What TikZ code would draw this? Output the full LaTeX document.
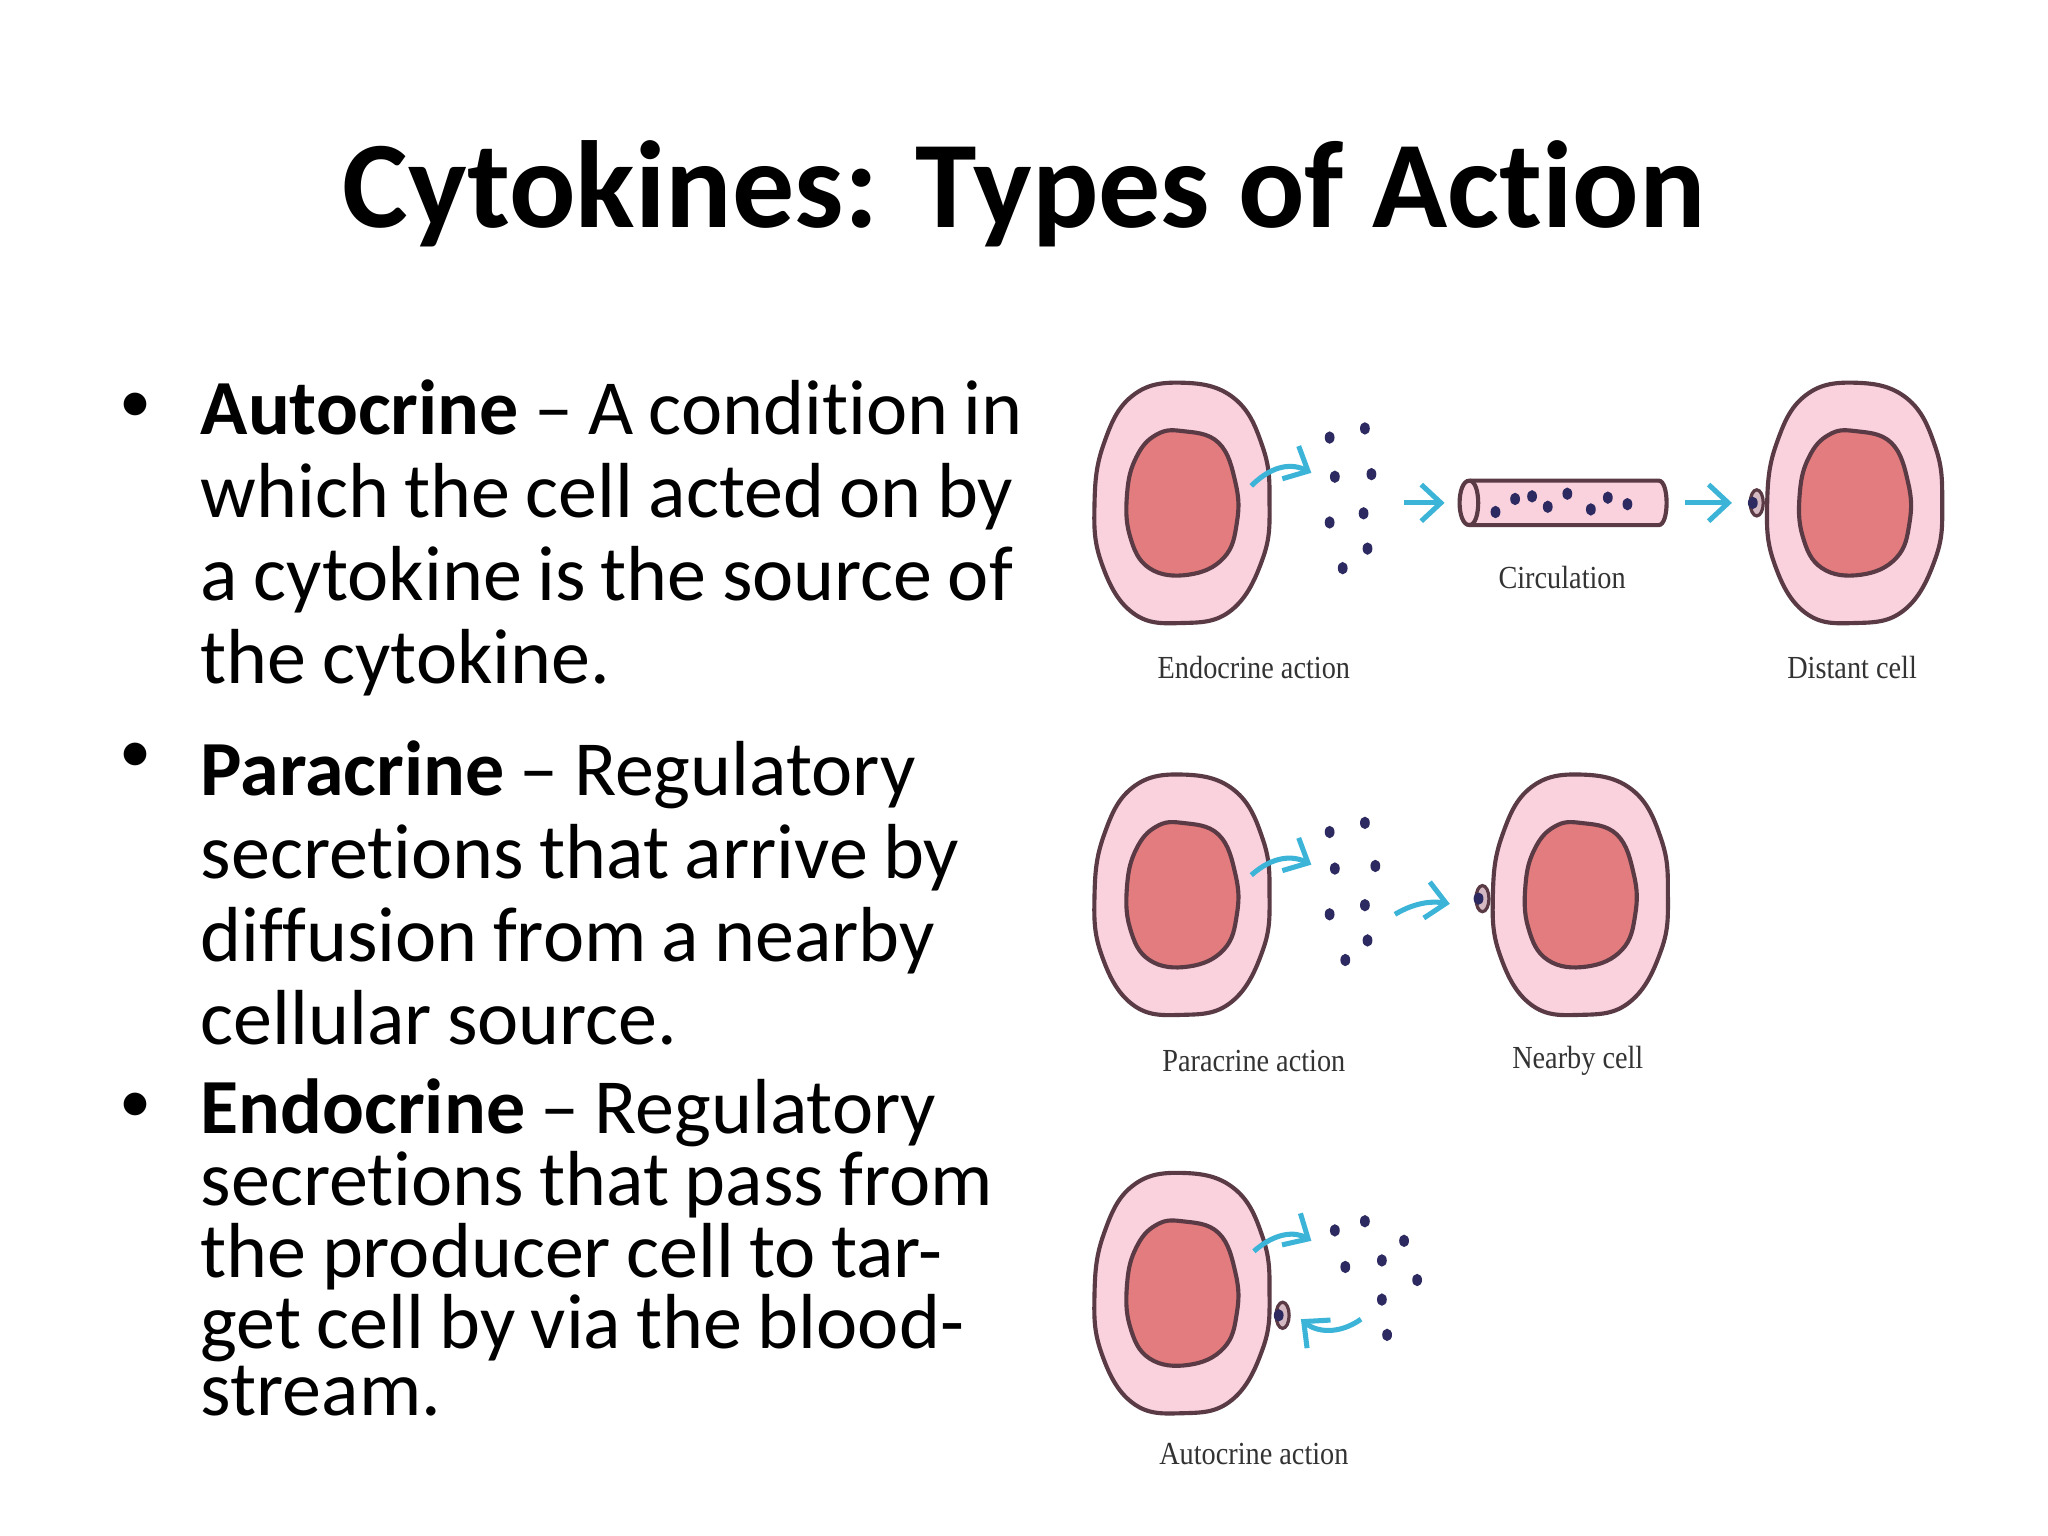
\documentclass[tikz,border=0pt]{standalone}
\usepackage{fontspec}
\setmainfont[RawFeature=-liga]{Carlito}
\newfontfamily\figfont{Liberation Serif}
\usetikzlibrary{arrows.meta,shapes.geometric}
\definecolor{cellpink}{HTML}{F9D2DE}
\definecolor{nucred}{HTML}{E27C7E}
\definecolor{edgec}{HTML}{5A3A44}
\definecolor{dotc}{HTML}{2C2A60}
\definecolor{arrc}{HTML}{3CB4D8}
\tikzset{
  cellshape/.style={fill=cellpink,draw=edgec,line width=0.9pt},
  nucshape/.style={fill=nucred,draw=edgec,line width=0.9pt},
  mol/.style={ellipse,fill=dotc,inner sep=0pt,minimum width=0.75mm,minimum height=0.95mm},
  flow/.style={draw=arrc,line width=1.1pt,-{Straight Barb[length=1.5mm,width=2.8mm]}},
  lab/.style={font=\figfont\fontsize{7}{8}\selectfont\addfontfeature{FakeStretch=0.88},text=black!80,inner sep=0pt},
  rec/.style={draw=edgec,fill=cellpink!70!gray,line width=0.7pt},
  pics/cell/.style={code={
    \draw[cellshape] plot[smooth cycle,tension=0.7] coordinates{(0,-92)(40,-80)(62,-42)(67,0)(62,42)(38,82)(0,92)(-38,84)(-62,45)(-67,0)(-60,-45)(-38,-82)};
    \draw[nucshape] plot[smooth cycle,tension=0.7] coordinates{(0,-55)(28,-46)(41,-15)(42,15)(32,42)(5,55)(-25,50)(-40,25)(-42,-8)(-35,-35)(-20,-52)};
  }}
}
\begin{document}
\begin{tikzpicture}[x=0.1mm,y=-0.1mm]
\useasboundingbox[fill=white] (0,0) rectangle (1568,1176);
\node (title) at (784,148) {\fontsize{27}{30}\selectfont\bfseries Cytokines: Types of Action};
% bullets
\node[anchor=north west,text width=63mm,inner sep=0pt,align=left] (txt) at (153,290)
{\fontsize{17}{18.1}\selectfont\hyphenpenalty=10000
\textbf{Autocrine} – A condition in which the cell acted on by a cytokine is the source of the cytokine.\par\vspace{2.2mm}
\textbf{Paracrine} – Regulatory secretions that arrive by diffusion from a nearby cellular source.\par\vspace{2.2mm}
\textbf{Endocrine} – Regulatory secretions that pass from the producer cell to target cell by via the bloodstream.};
\foreach \y/\n in {312/b1,580/b2,848/b3} \node (\n) at (104,\y) {\fontsize{14}{16}\selectfont •};
% endocrine row
\pic at (905,385) {cell};
\pic at (1420,385) {cell};
\foreach \p [count=\i] in {(1018,335),(1045,328),(1022,365),(1050,363),(1018,400),(1044,393),(1047,420),(1028,435)} \node[mol] (e\i) at \p {};
\draw[flow] (958,372) .. controls (975,355) and (990,355) .. (1004,362);
\draw[flow] (1075,385) -- (1106,385);
\draw[edgec,fill=cellpink,line width=0.9pt] (1125,368) -- (1270,368) .. controls (1278,368) and (1278,402) .. (1270,402) -- (1125,402) .. controls (1115,402) and (1115,368) .. (1125,368) -- cycle;
\draw[edgec,line width=0.9pt] (1125,368) .. controls (1134,368) and (1134,402) .. (1125,402);
\foreach \p [count=\i] in {(1145,392),(1160,382),(1173,380),(1185,388),(1200,378),(1218,390),(1231,381),(1246,386)} \node[mol] (t\i) at \p {};
\draw[flow] (1290,385) -- (1326,385);
\draw[rec] (1345,385) ellipse (5 and 10);
\node[mol] (r1) at (1342,385) {};
\node[lab] (l1) at (960,511) {Endocrine action};
\node[lab] (l2) at (1196,442) {Circulation};
\node[lab] (l3) at (1418,511) {Distant cell};
% paracrine row
\pic at (905,685) {cell};
\pic at (1210,685) {cell};
\foreach \p [count=\i] in {(1018,637),(1045,630),(1022,665),(1053,663),(1018,700),(1045,693),(1047,720),(1030,735)} \node[mol] (p\i) at \p {};
\draw[flow] (958,670) .. controls (975,655) and (990,655) .. (1004,662);
\draw[flow] (1068,700) .. controls (1085,690) and (1098,690) .. (1110,692);
\draw[rec] (1135,688) ellipse (5 and 10);
\node[mol] (r2) at (1132,688) {};
\node[lab] (l4) at (960,812) {Paracrine action};
\node[lab] (l5) at (1208,812) {Nearby cell};
% autocrine row
\pic at (905,990) {cell};
\foreach \p [count=\i] in {(1022,942),(1045,935),(1030,970),(1058,965),(1075,950),(1085,980),(1058,995),(1062,1022)} \node[mol] (a\i) at \p {};
\draw[flow] (960,958) .. controls (977,943) and (992,943) .. (1004,950);
\draw[flow] (1042,1010) .. controls (1025,1022) and (1008,1020) .. (996,1010);
\draw[rec] (982,1007) ellipse (5 and 10);
\node[mol] (r3) at (979,1007) {};
\node[lab] (l6) at (960,1113) {Autocrine action};
\end{tikzpicture}
\end{document}
